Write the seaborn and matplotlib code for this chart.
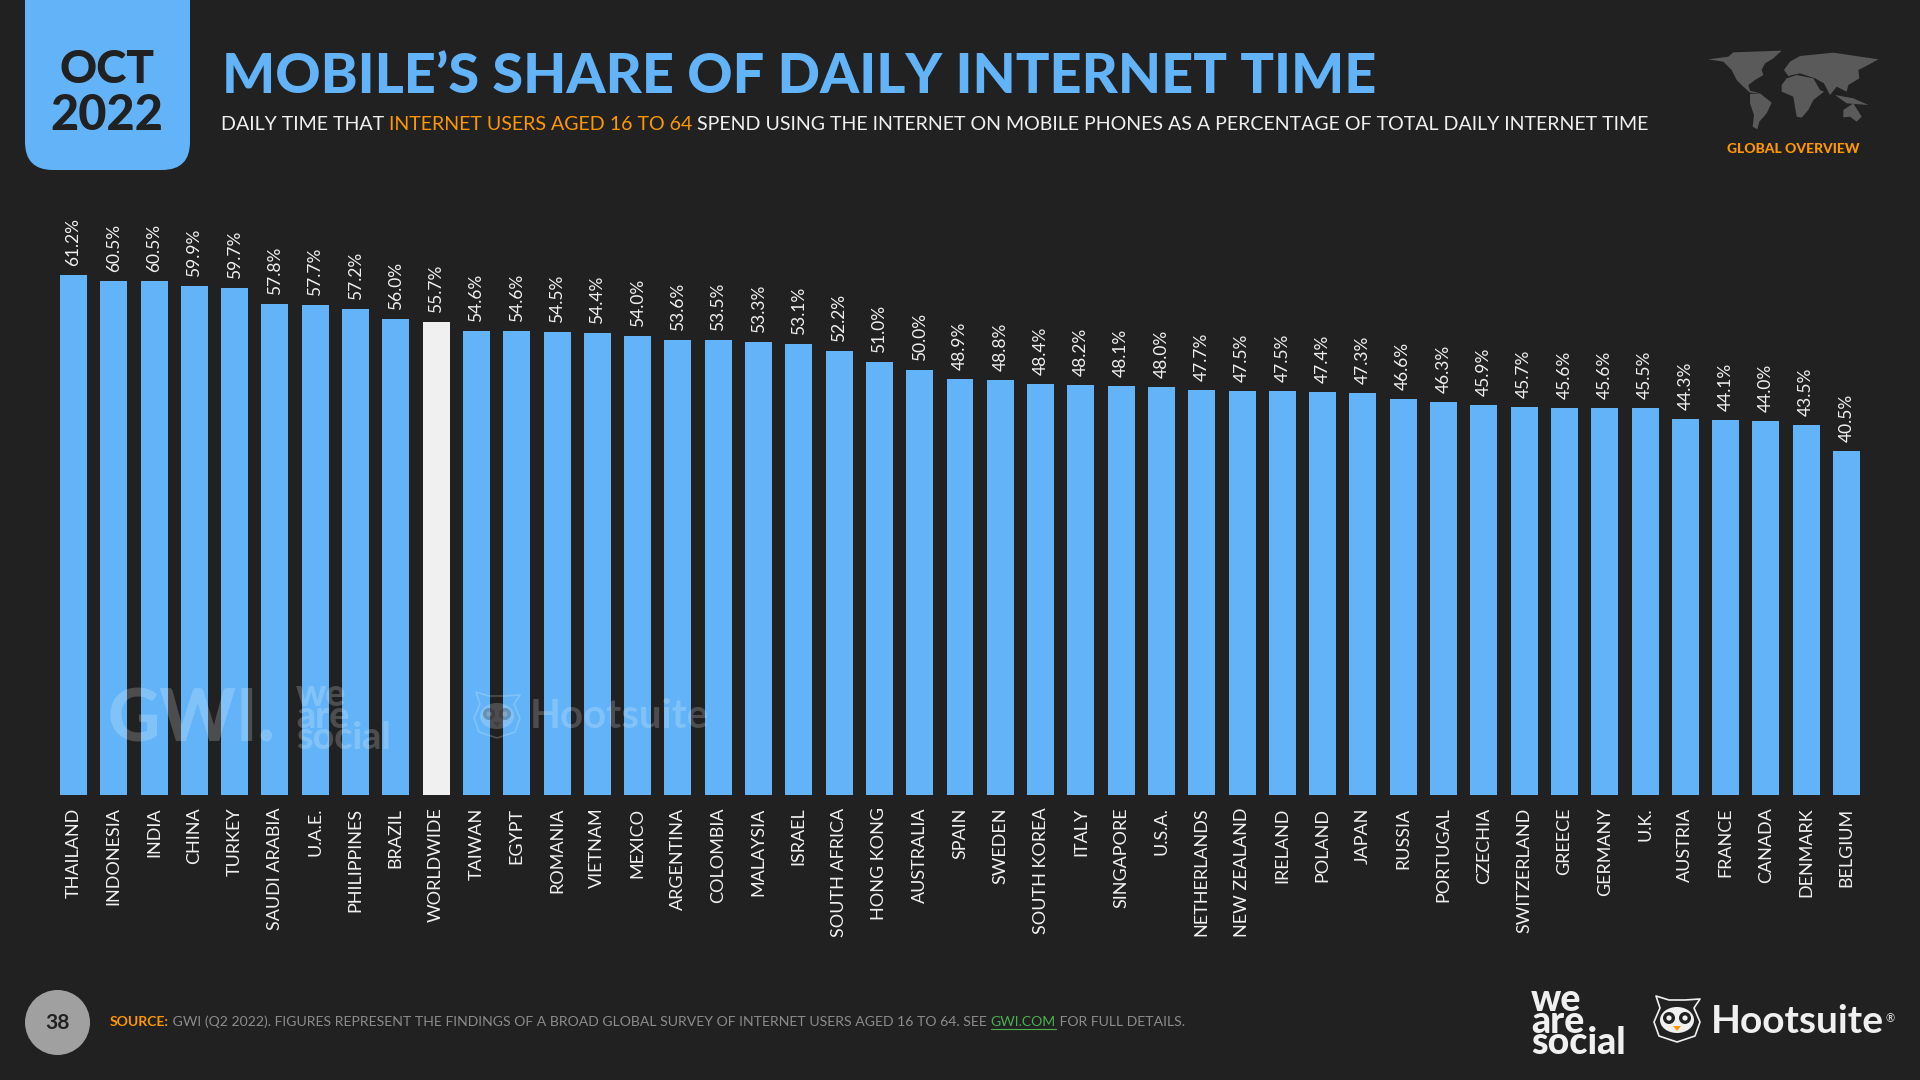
import matplotlib
matplotlib.use("Agg")
import matplotlib.pyplot as plt
import pandas as pd
import seaborn as sns
from matplotlib.patches import Circle, Ellipse, FancyBboxPatch, Polygon

countries = ["THAILAND", "INDONESIA", "INDIA", "CHINA", "TURKEY", "SAUDI ARABIA", "U.A.E.", "PHILIPPINES", "BRAZIL",
             "WORLDWIDE", "TAIWAN", "EGYPT", "ROMANIA", "VIETNAM", "MEXICO", "ARGENTINA", "COLOMBIA", "MALAYSIA",
             "ISRAEL", "SOUTH AFRICA", "HONG KONG", "AUSTRALIA", "SPAIN", "SWEDEN", "SOUTH KOREA", "ITALY",
             "SINGAPORE", "U.S.A.", "NETHERLANDS", "NEW ZEALAND", "IRELAND", "POLAND", "JAPAN", "RUSSIA", "PORTUGAL",
             "CZECHIA", "SWITZERLAND", "GREECE", "GERMANY", "U.K.", "AUSTRIA", "FRANCE", "CANADA", "DENMARK", "BELGIUM"]
share = [61.2, 60.5, 60.5, 59.9, 59.7, 57.8, 57.7, 57.2, 56.0,
         55.7, 54.6, 54.6, 54.5, 54.4, 54.0, 53.6, 53.5, 53.3,
         53.1, 52.2, 51.0, 50.0, 48.9, 48.8, 48.4, 48.2,
         48.1, 48.0, 47.7, 47.5, 47.5, 47.4, 47.3, 46.6, 46.3,
         45.9, 45.7, 45.6, 45.6, 45.5, 44.3, 44.1, 44.0, 43.5, 40.5]

BG = "#212121"
BLUE = "#62B3F7"
ORANGE = "#FF9800"
WHITE = "#F0F0F0"
LATO = ["Lato", "DejaVu Sans"]

sns.set_theme(style="dark", rc={"figure.facecolor": BG, "axes.facecolor": BG, "savefig.facecolor": BG})
plt.rcParams["font.family"] = LATO

fig = plt.figure(figsize=(19.2, 10.8), dpi=100)

# chart area, 8.497 px per percent point
ax = fig.add_axes([53.35 / 1920, (1080 - 795) / 1080, 1813.3 / 1920, 594.8 / 1080])
df = pd.DataFrame({"country": countries, "share": share})
colors = {c: (WHITE if c == "WORLDWIDE" else BLUE) for c in countries}
sns.barplot(data=df, x="country", y="share", hue="country", palette=colors, dodge=False,
            width=0.67, saturation=1, linewidth=0, legend=False, ax=ax)
for bars in ax.containers:
    ax.bar_label(bars, fmt="%.1f%%", rotation=90, padding=6.5, color=WHITE, fontsize=12.5)
ax.set_xlim(-0.5, 44.5)
ax.set_ylim(0, 70)
ax.set_xlabel("")
ax.set_ylabel("")
ax.set_yticks([])
ax.set_xticks(range(len(countries)))
ax.set_xticklabels(countries, rotation=90, ha="center", va="top", color=WHITE, fontsize=13)
ax.tick_params(axis="x", length=0, pad=9)
sns.despine(ax=ax, left=True, bottom=True)

# overlay in pixel coordinates for the slide furniture
over = fig.add_axes([0, 0, 1, 1], zorder=5)
over.set_xlim(0, 1920)
over.set_ylim(1080, 0)
over.axis("off")
over.patch.set_alpha(0)


def run_text(x, y, parts, size):
    # several colours on one line, placed one after the other
    rend = fig.canvas.get_renderer()
    for s, col, weight in parts:
        t = over.text(x, y, s, color=col, fontsize=size, weight=weight, va="baseline", ha="left")
        x = over.transData.inverted().transform((t.get_window_extent(rend).x1, 0))[0]
    return x


def owl(cx, cy, w, col, alpha=1.0):
    # rough owl head, w is the full width in px
    k = w / 46
    horns = [(-21, -23), (-8, -19), (8, -19), (23, -20), (17, -11), (23, 3), (18, 17), (0, 23),
             (-18, 17), (-23, 3), (-17, -11)]
    over.add_patch(Polygon([(cx + a * k, cy + b * k) for a, b in horns], closed=True, fill=False,
                           ec=col, lw=1.2, alpha=alpha, joinstyle="round"))
    over.add_patch(Ellipse((cx, cy + 1 * k), 34 * k, 26 * k, color=col, alpha=alpha, lw=0))
    eye_a = 1.0 if alpha == 1.0 else 0.3
    for dx in (-8, 8):
        over.add_patch(Circle((cx + dx * k, cy - 1 * k), 6 * k, color=BG, alpha=eye_a, lw=0))
        over.add_patch(Circle((cx + dx * k, cy - 1 * k), 2.6 * k, color=col, alpha=alpha, lw=0))
    over.add_patch(Polygon([(cx - 4 * k, cy + 7 * k), (cx + 4 * k, cy + 7 * k), (cx, cy + 12 * k)],
                           color=ORANGE if alpha == 1.0 else BG, alpha=eye_a, lw=0))


# date badge, top runs off the slide
over.add_patch(FancyBboxPatch((25, -60), 165, 230, boxstyle="round,pad=0,rounding_size=28", fc=BLUE, ec="none"))
over.text(107, 83, "OCT", color=BG, fontsize=33, weight="black", ha="center", va="baseline")
over.text(107, 130, "2022", color=BG, fontsize=35, weight="black", ha="center", va="baseline")

over.text(222, 93, "MOBILE’S SHARE OF DAILY INTERNET TIME", color=BLUE, fontsize=40.2, weight="black", va="baseline")
run_text(221, 130, [("DAILY TIME THAT ", WHITE, "normal"),
                    ("INTERNET USERS AGED 16 TO 64", ORANGE, "normal"),
                    (" SPEND USING THE INTERNET ON MOBILE PHONES AS A PERCENTAGE OF TOTAL DAILY INTERNET TIME", WHITE, "normal")],
         14.1)

# world map, very rough outline (zoomed crop px)
continents = [
    [(325, 118), (385, 110), (400, 97), (545, 92), (520, 115), (495, 130), (485, 150), (490, 165), (465, 180),
     (445, 195), (450, 212), (480, 220), (450, 218), (430, 200), (410, 180), (395, 150), (370, 125)],
    [(450, 222), (480, 220), (515, 248), (500, 280), (478, 305), (472, 328), (458, 320), (462, 285), (450, 250)],
    [(560, 175), (590, 165), (640, 175), (660, 210), (672, 215), (640, 240), (625, 270), (605, 293), (590, 290),
     (580, 230), (545, 215), (545, 195)],
    [(552, 150), (570, 125), (600, 108), (700, 98), (835, 118), (795, 140), (775, 150), (778, 175), (745, 195),
     (740, 215), (710, 200), (690, 225), (672, 190), (645, 175), (600, 160), (565, 168)],
    [(730, 270), (760, 250), (785, 290), (770, 305), (750, 290), (730, 292)],
    [(705, 225), (760, 235), (805, 255), (740, 250)],
]
for shape in continents:
    over.add_patch(Polygon([(1600 + a / 3, 20 + b / 3) for a, b in shape], closed=True, color="#5A5A5A", lw=0))
over.text(1793, 153, "GLOBAL OVERVIEW", color=ORANGE, fontsize=10, weight="black", ha="center", va="baseline")

# watermarks across the bars
over.text(108, 742, "GWI.", color="white", alpha=0.2, fontsize=52, weight="black", va="baseline")
over.text(296, 749, "we\nare\nsocial", color="white", alpha=0.2, fontsize=27, weight="black", va="baseline",
          linespacing=0.55)
owl(497, 715, 46, "white", alpha=0.2)
over.text(530, 728, "Hootsuite", color="white", alpha=0.2, fontsize=29, weight="bold", va="baseline")

# footer
over.add_patch(Ellipse((57.5, 1022.5), 65, 65, color="#A0A0A0", lw=0))
over.text(57.5, 1023, "38", color=BG, fontsize=15, weight="bold", ha="center", va="center")
end = run_text(110, 1026, [("SOURCE:", ORANGE, "bold"),
                           (" GWI (Q2 2022). FIGURES REPRESENT THE FINDINGS OF A BROAD GLOBAL SURVEY OF INTERNET USERS AGED 16 TO 64. SEE ", "#8C8C8C", "normal")],
               10.1)
end2 = run_text(end, 1026, [("GWI.COM", "#4CAF50", "normal")], 10.1)
over.plot([end, end2], [1029, 1029], color="#4CAF50", lw=0.8)
run_text(end2, 1026, [(" FOR FULL DETAILS.", "#8C8C8C", "normal")], 10.1)

over.text(1531, 1054, "we\nare\nsocial", color=WHITE, fontsize=27, weight="black", va="baseline", linespacing=0.55)
owl(1677, 1019, 46, WHITE)
over.text(1711, 1033, "Hootsuite", color=WHITE, fontsize=28, weight="bold", va="baseline")
over.text(1886, 1022, "®", color=WHITE, fontsize=8, va="baseline")

fig.savefig("out.png", dpi=100)
